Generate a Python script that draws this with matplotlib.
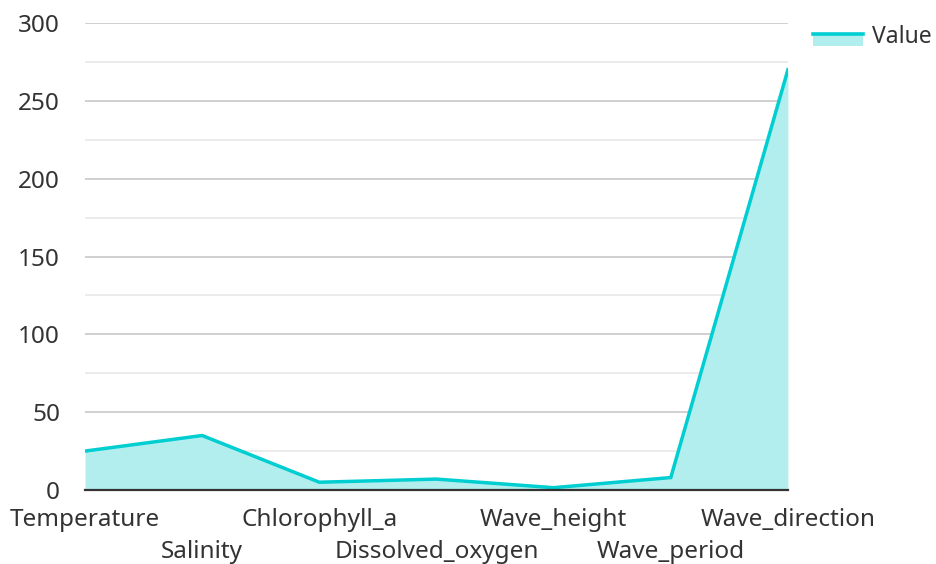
import matplotlib.pyplot as plt
from matplotlib.lines import Line2D
from matplotlib.patches import Rectangle
from matplotlib.legend_handler import HandlerBase

plt.rcParams['font.family'] = ['Noto Sans', 'DejaVu Sans']

# data
categories = ['Temperature', 'Salinity', 'Chlorophyll_a', 'Dissolved_oxygen',
              'Wave_height', 'Wave_period', 'Wave_direction']
values = [25, 35, 5, 7, 1.5, 8, 270]
y_ticks = [0, 50, 100, 150, 200, 250, 300]
y_minor = [25, 75, 125, 175, 225, 275]

line_color = '#00CED1'
fill_color = '#b2eeee'


# legend handle: line sitting on top of a filled box
class AreaHandler(HandlerBase):
    def create_artists(self, legend, orig_handle, xdescent, ydescent,
                       width, height, fontsize, trans):
        top = height * 0.95
        rect = Rectangle((-xdescent, -ydescent - height * 0.15), width, top * 0.75,
                         facecolor=fill_color, edgecolor='none', transform=trans)
        y_line = -ydescent - height * 0.15 + top * 0.75
        ln = Line2D([-xdescent, width - xdescent], [y_line, y_line],
                    color=line_color, lw=2.6, transform=trans)
        return [rect, ln]


fig = plt.figure(figsize=(9.36, 5.64), dpi=100)
ax = fig.add_axes([0.0908, 0.1312, 0.751, 0.828])

x = list(range(len(categories)))
ax.fill_between(x, values, 0, color=fill_color, lw=0)
ax.plot(x, values, color=line_color, lw=2.5, solid_joinstyle='miter')

ax.set_xlim(0, len(categories) - 1)
ax.set_ylim(0, 300)
ax.set_yticks(y_ticks)
ax.set_yticks(y_minor, minor=True)
ax.grid(axis='y', which='major', color='#c4c4c4', lw=1.1)
ax.grid(axis='y', which='minor', color='#e6e6e6', lw=1.1)
ax.set_axisbelow(True)

for s in ['top', 'right', 'left']:
    ax.spines[s].set_visible(False)
ax.spines['bottom'].set_color('#333333')
ax.spines['bottom'].set_linewidth(1.6)
ax.spines['bottom'].set_zorder(5)

ax.set_xticks(x)
ax.set_xticklabels(categories)
ax.tick_params(axis='both', which='both', length=0, labelsize=17.5, labelcolor='#333333')
ax.tick_params(axis='y', pad=18)
for i, t in enumerate(ax.xaxis.get_major_ticks()):
    t.set_pad(13 if i % 2 == 0 else 36)

ax.legend([object()], ['Value'], handler_map={object: AreaHandler()},
          loc='upper left', bbox_to_anchor=(1.009, 1.034), frameon=False,
          fontsize=16.5, handlelength=2.2, handletextpad=0.4, labelcolor='#333333',
          borderaxespad=0.4)

fig.savefig('out.png', dpi=100)
